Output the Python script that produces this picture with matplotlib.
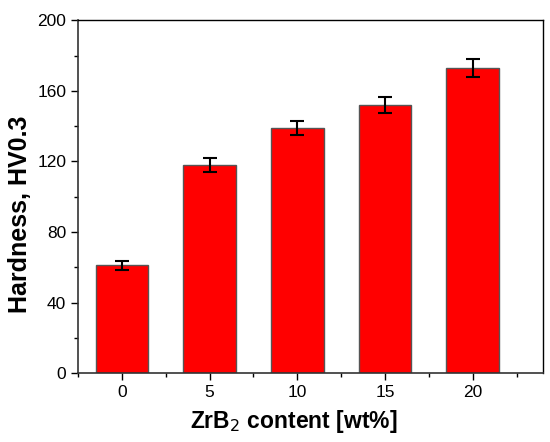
import matplotlib.pyplot as plt
from matplotlib.ticker import MultipleLocator

plt.rcParams['font.family'] = ['Liberation Sans', 'DejaVu Sans']

zrb2_content = [0, 5, 10, 15, 20]
hardness = [61, 118, 139, 152, 173]
hardness_err = [2.5, 4, 4, 4.7, 5.3]

fig = plt.figure(figsize=(5.5, 4.42), dpi=100)
ax = fig.add_axes([0.142, 0.156, 0.845, 0.798])

ax.bar(zrb2_content, hardness, width=3, color='#ff0000', edgecolor='#555555',
       linewidth=1.0, yerr=hardness_err, capsize=5,
       error_kw=dict(ecolor='black', elinewidth=1.5, capthick=1.5))

ax.set_xlim(-2.5, 24)
ax.set_ylim(0, 200)
ax.set_xticks(zrb2_content)
ax.set_yticks([0, 40, 80, 120, 160, 200])
ax.xaxis.set_minor_locator(MultipleLocator(2.5))
ax.yaxis.set_minor_locator(MultipleLocator(20))
ax.tick_params(which='major', direction='out', length=5, width=1, labelsize=12.5)
ax.tick_params(which='minor', direction='out', length=3, width=1)

for side in ['left', 'bottom']:
    ax.spines[side].set_color('#333333')
    ax.spines[side].set_linewidth(1.2)
for side in ['top', 'right']:
    ax.spines[side].set_linewidth(1.0)

ax.set_xlabel('ZrB$_2$ content [wt%]', fontsize=16.5, fontweight='bold')
ax.xaxis.set_label_coords(0.465, -0.1)
ax.set_ylabel('Hardness, HV0.3', fontsize=18, fontweight='bold')
ax.yaxis.set_label_coords(-0.1, 0.45)

fig.savefig('out.png', dpi=100)
